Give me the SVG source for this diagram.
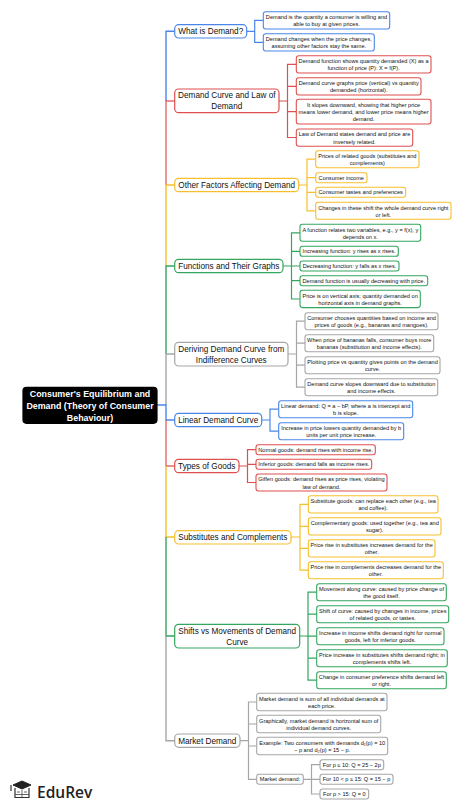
<svg xmlns="http://www.w3.org/2000/svg" width="474" height="811" viewBox="0 0 474 811">
<style>
text{font-family:"Liberation Sans",Arial,sans-serif;fill:#111;text-anchor:middle}
.l{font-size:5.6px}
.m{font-size:8.2px}
.t{font-size:8.9px;font-weight:700;fill:#fff}
rect{fill:#fff;stroke-width:1.2}
.leaf rect{stroke-width:1.1}
path{fill:none;stroke-width:1.2}
.b{stroke:#4a86e8}
.r{stroke:#e04f4f}
.y{stroke:#f6c02c}
.g{stroke:#34a65f}
.k{stroke:#a6a6a6}
.tr{stroke-width:1.4}
</style>
<rect width="474" height="811" style="fill:#fff;stroke:none"/>
<g id="connectors">
<path class="b tr" d="M166 101V31.3H174.7"/>
<path class="r tr" style="opacity:.85" d="M166 185V101H174.7"/>
<path class="y tr" d="M166 266V185H174.7"/>
<path class="g tr" d="M166 354V266H174.7"/>
<path class="k tr" d="M166 405V354H174.7"/>
<path class="b tr" d="M157 405H166V420H174.7"/>
<path class="r tr" style="opacity:.85" d="M166 420V466H174.7"/>
<path class="y tr" d="M166 466V537H174.7"/>
<path class="g tr" d="M166 537V636H174.7"/>
<path class="k tr" d="M166 636V740.7H174.7"/>
<path class="b" d="M246.7 31.3H254.7M263.3 20.3H254.7V42.3H263.3"/>
<path class="r" d="M279 101H287.5M296.3 64.3H287.5V137.5H296.3M287.5 86.3H296.3M287.5 111.7H296.3"/>
<path class="y" d="M298.7 185H307M315.7 159.2H307V210.8H315.7M307 177.7H315.7M307 192.3H315.7"/>
<path class="g" d="M283 266H291.5M300 232.8H291.5V299H300M291.5 251.3H300M291.5 266H300M291.5 280.7H300"/>
<path class="k" d="M288 354H296.5M305 321.2H296.5V387.2H305M296.5 343.2H305M296.5 365.2H305"/>
<path class="b" d="M261.7 420H270M278.7 409.2H270V431.2H278.7"/>
<path class="r" d="M239 466H247.5M256 449.7H247.5V482.5H256M247.5 464.3H256"/>
<path class="y" d="M291 537H300M308.3 504.3H300V570.2H308.3M300 526.3H308.3M300 548.3H308.3"/>
<path class="g" d="M299.7 636H308M316.7 592.2H308V680.2H316.7M308 614.2H316.7M308 636.2H316.7M308 658.2H316.7"/>
<path class="k" d="M240 740.7H248.5M256.7 702H248.5V779.3H256.7M248.5 724H256.7M248.5 746H256.7"/>
<path class="k" d="M303.3 779.3H311.5M320 764.7H311.5V794H320M311.5 779.3H320"/>
</g>
<g id="root"><rect x="23" y="387.3" width="134" height="36" rx="3.5" style="fill:#000;stroke:#000"/>
<text class="t" x="90" y="397">Consumer's Equilibrium and</text><text class="t" x="90" y="409">Demand (Theory of Consumer</text><text class="t" x="90" y="421">Behaviour)</text></g>

<g id="n1"><rect class="b" x="174.7" y="24.7" width="72" height="13.3" rx="4"/><text class="m" x="210.7" y="34.3">What is Demand?</text></g>
<g id="n1a" class="leaf"><rect class="b" x="263.3" y="11.7" width="126.4" height="17.3" rx="2.5"/><text class="l" x="326.5" y="19">Demand is the quantity a consumer is willing and</text><text class="l" x="326.5" y="26.3">able to buy at given prices.</text></g>
<g id="n1b" class="leaf"><rect class="b" x="263.3" y="33.7" width="111" height="17.3" rx="2.5"/><text class="l" x="318.8" y="41">Demand changes when the price changes,</text><text class="l" x="318.8" y="48.3">assuming other factors stay the same.</text></g>

<g id="n2"><rect class="r" x="174.7" y="89" width="104.3" height="23.7" rx="4"/><text class="m" x="226.8" y="98.4">Demand Curve and Law of</text><text class="m" x="226.8" y="109.4">Demand</text></g>
<g id="n2a" class="leaf"><rect class="r" x="296.3" y="55.7" width="134.7" height="17.3" rx="2.5"/><text class="l" x="363.6" y="63">Demand function shows quantity demanded (X) as a</text><text class="l" x="363.6" y="70.3">function of price (P): X = f(P).</text></g>
<g id="n2b" class="leaf"><rect class="r" x="296.3" y="77.7" width="124.7" height="17.3" rx="2.5"/><text class="l" x="358.7" y="85">Demand curve graphs price (vertical) vs quantity</text><text class="l" x="358.7" y="92.3">demanded (horizontal).</text></g>
<g id="n2c" class="leaf"><rect class="r" x="296.3" y="99.3" width="134.7" height="24.7" rx="2.5"/><text class="l" x="363.6" y="106.6">It slopes downward, showing that higher price</text><text class="l" x="363.6" y="113.9">means lower demand, and lower price means higher</text><text class="l" x="363.6" y="121.2">demand.</text></g>
<g id="n2d" class="leaf"><rect class="r" x="296.3" y="129" width="116.4" height="17.3" rx="2.5"/><text class="l" x="354.5" y="136.3">Law of Demand states demand and price are</text><text class="l" x="354.5" y="143.6">inversely related.</text></g>

<g id="n3"><rect class="y" x="174.7" y="178.3" width="124" height="13.4" rx="4"/><text class="m" x="236.7" y="187.9">Other Factors Affecting Demand</text></g>
<g id="n3a" class="leaf"><rect class="y" x="315.7" y="150.7" width="103.3" height="17" rx="2.5"/><text class="l" x="367.3" y="157.9">Prices of related goods (substitutes and</text><text class="l" x="367.3" y="165.2">complements)</text></g>
<g id="n3b" class="leaf"><rect class="y" x="315.7" y="172.7" width="51.3" height="10" rx="2.5"/><text class="l" x="341.3" y="179.7">Consumer income</text></g>
<g id="n3c" class="leaf"><rect class="y" x="315.7" y="187.3" width="90" height="10" rx="2.5"/><text class="l" x="360.7" y="194.3">Consumer tastes and preferences</text></g>
<g id="n3d" class="leaf"><rect class="y" x="315.7" y="202.3" width="135.3" height="17" rx="2.5"/><text class="l" x="383.3" y="209.5">Changes in these shift the whole demand curve right</text><text class="l" x="383.3" y="216.8">or left.</text></g>

<g id="n4"><rect class="g" x="174.7" y="259.3" width="108.3" height="13.4" rx="4"/><text class="m" x="228.8" y="268.9">Functions and Their Graphs</text></g>
<g id="n4a" class="leaf"><rect class="g" x="300" y="224.3" width="120.7" height="17" rx="2.5"/><text class="l" x="360.3" y="231.5">A function relates two variables, e.g., y = f(x), y</text><text class="l" x="360.3" y="238.8">depends on x.</text></g>
<g id="n4b" class="leaf"><rect class="g" x="300" y="246.3" width="98.3" height="10" rx="2.5"/><text class="l" x="349.1" y="253.3">Increasing function: y rises as x rises.</text></g>
<g id="n4c" class="leaf"><rect class="g" x="300" y="261" width="99" height="10" rx="2.5"/><text class="l" x="349.5" y="268">Decreasing function: y falls as x rises.</text></g>
<g id="n4d" class="leaf"><rect class="g" x="300" y="275.7" width="127.7" height="10" rx="2.5"/><text class="l" x="363.8" y="282.7">Demand function is usually decreasing with price.</text></g>
<g id="n4e" class="leaf"><rect class="g" x="300" y="290.3" width="120.3" height="17.3" rx="2.5"/><text class="l" x="360.1" y="297.6">Price is on vertical axis; quantity demanded on</text><text class="l" x="360.1" y="304.9">horizontal axis in demand graphs.</text></g>

<g id="n5"><rect class="k" x="174.7" y="342.3" width="113.3" height="23.7" rx="4"/><text class="m" x="231.3" y="351.7">Deriving Demand Curve from</text><text class="m" x="231.3" y="362.7">Indifference Curves</text></g>
<g id="n5a" class="leaf"><rect class="k" x="305" y="312.7" width="133" height="17" rx="2.5"/><text class="l" x="371.5" y="319.9">Consumer chooses quantities based on income and</text><text class="l" x="371.5" y="327.2">prices of goods (e.g., bananas and mangoes).</text></g>
<g id="n5b" class="leaf"><rect class="k" x="305" y="334.7" width="128.7" height="17" rx="2.5"/><text class="l" x="369.3" y="341.9">When price of bananas falls, consumer buys more</text><text class="l" x="369.3" y="349.2">bananas (substitution and income effects).</text></g>
<g id="n5c" class="leaf"><rect class="k" x="305" y="356.7" width="135" height="17" rx="2.5"/><text class="l" x="372.5" y="363.9">Plotting price vs quantity gives points on the demand</text><text class="l" x="372.5" y="371.2">curve.</text></g>
<g id="n5d" class="leaf"><rect class="k" x="305" y="378.7" width="132.7" height="17" rx="2.5"/><text class="l" x="371.3" y="385.9">Demand curve slopes downward due to substitution</text><text class="l" x="371.3" y="393.2">and income effects.</text></g>

<g id="n6"><rect class="b" x="174.7" y="413.3" width="87" height="13.4" rx="4"/><text class="m" x="218.2" y="422.9">Linear Demand Curve</text></g>
<g id="n6a" class="leaf"><rect class="b" x="278.7" y="400.7" width="134" height="17" rx="2.5"/><text class="l" x="345.7" y="407.9">Linear demand: Q = a − bP, where a is intercept and</text><text class="l" x="345.7" y="415.2">b is slope.</text></g>
<g id="n6b" class="leaf"><rect class="b" x="278.7" y="422.7" width="125" height="17" rx="2.5"/><text class="l" x="341.2" y="429.9">Increase in price lowers quantity demanded by b</text><text class="l" x="341.2" y="437.2">units per unit price increase.</text></g>

<g id="n7"><rect class="r" x="174.7" y="459.3" width="64.3" height="13.4" rx="4"/><text class="m" x="206.8" y="468.9">Types of Goods</text></g>
<g id="n7a" class="leaf"><rect class="r" x="256" y="444.7" width="119.3" height="10" rx="2.5"/><text class="l" x="315.6" y="451.7">Normal goods: demand rises with income rise.</text></g>
<g id="n7b" class="leaf"><rect class="r" x="256" y="459.3" width="115.7" height="10" rx="2.5"/><text class="l" x="313.8" y="466.3">Inferior goods: demand falls as income rises.</text></g>
<g id="n7c" class="leaf"><rect class="r" x="256" y="474" width="131" height="17" rx="2.5"/><text class="l" x="321.5" y="481.2">Giffen goods: demand rises as price rises, violating</text><text class="l" x="321.5" y="488.5">law of demand.</text></g>

<g id="n8"><rect class="y" x="174.7" y="530.7" width="116.3" height="13.3" rx="4"/><text class="m" x="232.8" y="540.3">Substitutes and Complements</text></g>
<g id="n8a" class="leaf"><rect class="y" x="308.3" y="495.7" width="129.7" height="17.3" rx="2.5"/><text class="l" x="373.2" y="503">Substitute goods: can replace each other (e.g., tea</text><text class="l" x="373.2" y="510.3">and coffee).</text></g>
<g id="n8b" class="leaf"><rect class="y" x="308.3" y="517.7" width="132.7" height="17.3" rx="2.5"/><text class="l" x="374.7" y="525">Complementary goods: used together (e.g., tea and</text><text class="l" x="374.7" y="532.3">sugar).</text></g>
<g id="n8c" class="leaf"><rect class="y" x="308.3" y="539.7" width="126.7" height="17.3" rx="2.5"/><text class="l" x="371.7" y="547">Price rise in substitutes increases demand for the</text><text class="l" x="371.7" y="554.3">other.</text></g>
<g id="n8d" class="leaf"><rect class="y" x="308.3" y="561.7" width="135" height="17" rx="2.5"/><text class="l" x="375.8" y="568.9">Price rise in complements decreases demand for the</text><text class="l" x="375.8" y="576.2">other.</text></g>

<g id="n9"><rect class="g" x="174.7" y="624.3" width="125" height="23.7" rx="4"/><text class="m" x="237.2" y="633.7">Shifts vs Movements of Demand</text><text class="m" x="237.2" y="644.7">Curve</text></g>
<g id="n9a" class="leaf"><rect class="g" x="316.7" y="583.7" width="129.6" height="17" rx="2.5"/><text class="l" x="381.5" y="590.9">Movement along curve: caused by price change of</text><text class="l" x="381.5" y="598.2">the good itself.</text></g>
<g id="n9b" class="leaf"><rect class="g" x="316.7" y="605.7" width="132" height="17" rx="2.5"/><text class="l" x="382.7" y="612.9">Shift of curve: caused by changes in income, prices</text><text class="l" x="382.7" y="620.2">of related goods, or tastes.</text></g>
<g id="n9c" class="leaf"><rect class="g" x="316.7" y="627.7" width="127.3" height="17" rx="2.5"/><text class="l" x="380.3" y="634.9">Increase in income shifts demand right for normal</text><text class="l" x="380.3" y="642.2">goods, left for inferior goods.</text></g>
<g id="n9d" class="leaf"><rect class="g" x="316.7" y="649.7" width="130.6" height="17" rx="2.5"/><text class="l" x="382" y="656.9">Price increase in substitutes shifts demand right; in</text><text class="l" x="382" y="664.2">complements shifts left.</text></g>
<g id="n9e" class="leaf"><rect class="g" x="316.7" y="671.7" width="129.6" height="17" rx="2.5"/><text class="l" x="381.5" y="678.9">Change in consumer preference shifts demand left</text><text class="l" x="381.5" y="686.2">or right.</text></g>

<g id="n10"><rect class="k" x="174.7" y="734" width="65.3" height="13.3" rx="4"/><text class="m" x="207.3" y="743.6">Market Demand</text></g>
<g id="n10a" class="leaf"><rect class="k" x="256.7" y="693.3" width="130.3" height="17.4" rx="2.5"/><text class="l" x="321.8" y="700.6">Market demand is sum of all individual demands at</text><text class="l" x="321.8" y="707.9">each price.</text></g>
<g id="n10b" class="leaf"><rect class="k" x="256.7" y="715.3" width="124" height="17.4" rx="2.5"/><text class="l" x="318.7" y="722.6">Graphically, market demand is horizontal sum of</text><text class="l" x="318.7" y="729.9">individual demand curves.</text></g>
<g id="n10c" class="leaf"><rect class="k" x="256.7" y="737.3" width="131" height="17.4" rx="2.5"/><text class="l" x="322.2" y="744.6">Example: Two consumers with demands d₁(p) = 10</text><text class="l" x="322.2" y="751.9">− p and d₂(p) = 15 − p.</text></g>
<g id="n10d" class="leaf"><rect class="k" x="256.7" y="774.3" width="46.6" height="10" rx="2.5"/><text class="l" x="280" y="781.3">Market demand:</text></g>
<g id="n10d1" class="leaf"><rect class="k" x="320" y="759.7" width="63.7" height="10" rx="2.5"/><text class="l" x="351.8" y="766.7">For p ≤ 10: Q = 25 − 2p</text></g>
<g id="n10d2" class="leaf"><rect class="k" x="320" y="774.3" width="73" height="10" rx="2.5"/><text class="l" x="356.5" y="781.3">For 10 &lt; p ≤ 15: Q = 15 − p</text></g>
<g id="n10d3" class="leaf"><rect class="k" x="320" y="789" width="48.7" height="10" rx="2.5"/><text class="l" x="344.3" y="796">For p &gt; 15: Q = 0</text></g>

<g id="logo">
<path d="M13 785L22 781L31 785L22 789Z" style="fill:#222;stroke:#222;stroke-width:1"/>
<path d="M15 788V797.5H29V788M11 785V791" style="stroke:#333;stroke-width:1.2"/>
<path d="M17 792H20M24 792H27M22 790V797M15 794.5H29" style="stroke:#555;stroke-width:.9"/>
<text x="37" y="798" style="font-size:15.5px;text-anchor:start;font-family:'Open Sans',sans-serif;font-weight:600;fill:#222">EduRev</text>
</g>
</svg>
